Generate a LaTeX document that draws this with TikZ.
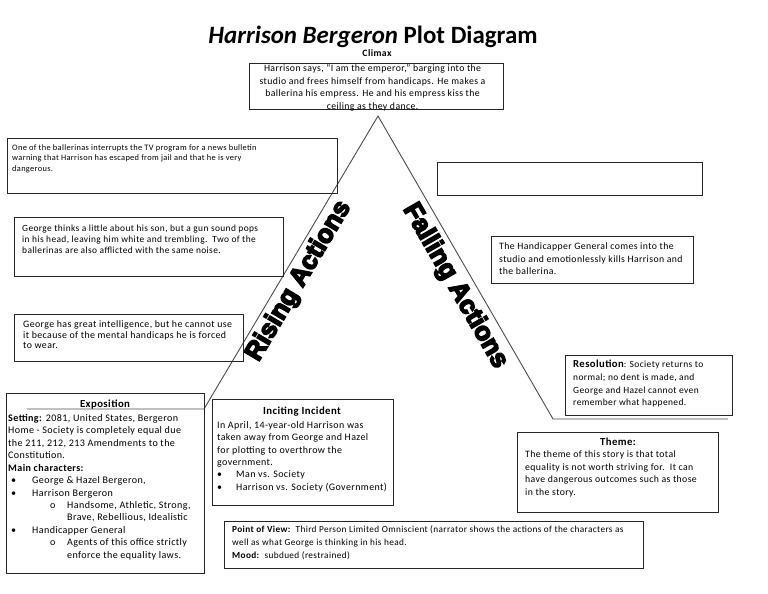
\documentclass[tikz,border=0pt]{standalone}
\usepackage{fontspec}
\setmainfont{Carlito}[LetterSpace=4]
\newfontfamily\titlefont{Carlito}
\newfontfamily\heavy{Liberation Sans Bold}[FakeBold=6]
\usetikzlibrary{positioning}

\newcommand{\bul}[1][21bp]{\makebox[#1][l]{\textbullet}}
\newcommand{\subbul}{\hspace*{42bp}\makebox[17bp][l]{o}}
\newcommand{\subcont}{\hspace*{59bp}}

\begin{document}
\begin{tikzpicture}[x=1bp,y=-1bp,
    box/.style={draw=black!85,line width=1.1bp,anchor=north west,inner sep=0pt},
    txt/.style={inner sep=0pt,align=left,anchor=north west,font=\fontsize{9.8}{12.5}\selectfont},
    small/.style={txt,font=\fontsize{8.4}{11}\selectfont},
    mid/.style={txt,font=\fontsize{9.5}{11}\selectfont},
    head/.style={inner sep=0pt,font=\bfseries\fontsize{10.8}{12}\selectfont},
    plotline/.style={draw=black!70,line width=0.9bp},
    actions/.style={inner sep=0pt,font=\heavy\fontsize{26}{26}\selectfont}]

  \useasboundingbox (0,0) rectangle (768,594);

  % title and climax
  \node (title) at (373,37) {\titlefont\fontsize{25}{25}\selectfont\bfseries\itshape Harrison Bergeron \upshape Plot Diagram};
  \node[head,font=\bfseries\fontsize{9.8}{11}\selectfont] (climaxlbl) at (377,53) {Climax};
  \node[box,minimum width=254bp,minimum height=46bp] (climax) at (249,63) {};
  \node[txt,align=center,anchor=north] (climaxtxt) [below=1.5bp of climax.north,xshift=-4bp] {Harrison says, “I am the emperor,” barging into the\\
    studio and frees himself from handicaps. He makes a\\
    ballerina his empress. He and his empress kiss the\\
    ceiling as they dance.};

  % the plot line
  \coordinate (baseL) at (27,409);
  \coordinate (footL) at (204,409);
  \coordinate (apex) at (378,116);
  \coordinate (footR) at (553,419);
  \coordinate (baseR) at (728,419);
  \draw[plotline] (baseL) -- (footL) -- (apex) -- (footR) -- (baseR);

  \node[actions,rotate=59.3] (rising) at (299,281) {Rising Actions};
  \node[actions,rotate=-60] (falling) at (455,286) {Falling Actions};

  % rising actions
  \node[box,minimum width=330bp,minimum height=55bp] (bulletin) at (7,138) {};
  \node[small] (bulletintxt) [below right=6bp and 5bp of bulletin.north west] {One of the ballerinas interrupts the TV program for a news bulletin\\
    warning that Harrison has escaped from jail and that he is very\\
    dangerous.};

  \node[box,minimum width=269bp,minimum height=59bp] (gunsound) at (14,217) {};
  \node[mid,font=\fontsize{9.45}{11}\selectfont] (gunsoundtxt) [below right=8bp and 8bp of gunsound.north west] {George thinks a little about his son, but a gun sound pops\\
    in his head, leaving him white and trembling.\ \ Two of the\\
    ballerinas are also afflicted with the same noise.};

  \node[box,minimum width=229bp,minimum height=47bp] (intel) at (14,314) {};
  \node[mid,font=\fontsize{9.9}{11}\selectfont] (inteltxt) [below right=6bp and 9bp of intel.north west] {George has great intelligence, but he cannot use\\
    it because of the mental handicaps he is forced\\
    to wear.};

  % exposition
  \node[box,minimum width=198bp,minimum height=180bp] (expo) at (6,393) {};
  \node[head] (expohead) at (105,405) {Exposition};
  \node[txt,font=\fontsize{10.1}{12.5}\selectfont] (expotxt) [below right=21bp and 2bp of expo.north west] {\textbf{Setting:} 2081, United States, Bergeron\\
    Home - Society is completely equal due\\
    the 211, 212, 213 Amendments to the\\
    Constitution.\\
    \textbf{Main characters:}\\
    \hspace*{3bp}\bul George \& Hazel Bergeron,\\
    \hspace*{3bp}\bul Harrison Bergeron\\
    \subbul Handsome, Athletic, Strong,\\
    \subcont Brave, Rebellious, Idealistic\\
    \hspace*{3bp}\bul Handicapper General\\
    \subbul Agents of this office strictly\\
    \subcont enforce the equality laws.};

  % inciting incident
  \node[box,minimum width=181bp,minimum height=106bp] (incite) at (212,399) {};
  \node[head] (incitehead) at (302,412) {Inciting Incident};
  \node[txt,font=\fontsize{10}{12.5}\selectfont] (incitetxt) [below right=22bp and 5bp of incite.north west] {In April, 14-year-old Harrison was\\
    taken away from George and Hazel\\
    for plotting to overthrow the\\
    government.\\
    \bul[19bp]Man vs. Society\\
    \bul[19bp]Harrison vs. Society (Government)};

  % falling actions
  \node[box,minimum width=265bp,minimum height=33bp] (empty) at (437,162) {};

  \node[box,minimum width=202bp,minimum height=47bp] (kills) at (491,236) {};
  \node[txt] (killstxt) [below right=7bp and 8bp of kills.north west] {The Handicapper General comes into the\\
    studio and emotionlessly kills Harrison and\\
    the ballerina.};

  % resolution and theme
  \node[box,minimum width=167bp,minimum height=60bp] (resol) at (565,355) {};
  \node[txt,font=\fontsize{9.5}{12.8}\selectfont] (resoltxt) [below right=5bp and 8bp of resol.north west] {{\bfseries\fontsize{10.7}{12.5}\selectfont Resolution}: Society returns to\\
    normal; no dent is made, and\\
    George and Hazel cannot even\\
    remember what happened.};

  \node[box,minimum width=201bp,minimum height=80bp] (theme) at (517,432) {};
  \node[head] (themehead) at (618,442) {Theme:};
  \node[txt] (themetxt) [below right=19bp and 8bp of theme.north west] {The theme of this story is that total\\
    equality is not worth striving for.\ \ It can\\
    have dangerous outcomes such as those\\
    in the story.};

  % point of view
  \node[box,minimum width=419bp,minimum height=47bp] (pov) at (224,521) {};
  \node[txt,font=\fontsize{9.3}{12.8}\selectfont] (povtxt) [below right=5bp and 8bp of pov.north west] {\textbf{Point of View:}\ \ Third Person Limited Omniscient (narrator shows the actions of the characters as\\
    well as what George is thinking in his head.\\
    \textbf{Mood:}\ \ subdued (restrained)};
\end{tikzpicture}
\end{document}
